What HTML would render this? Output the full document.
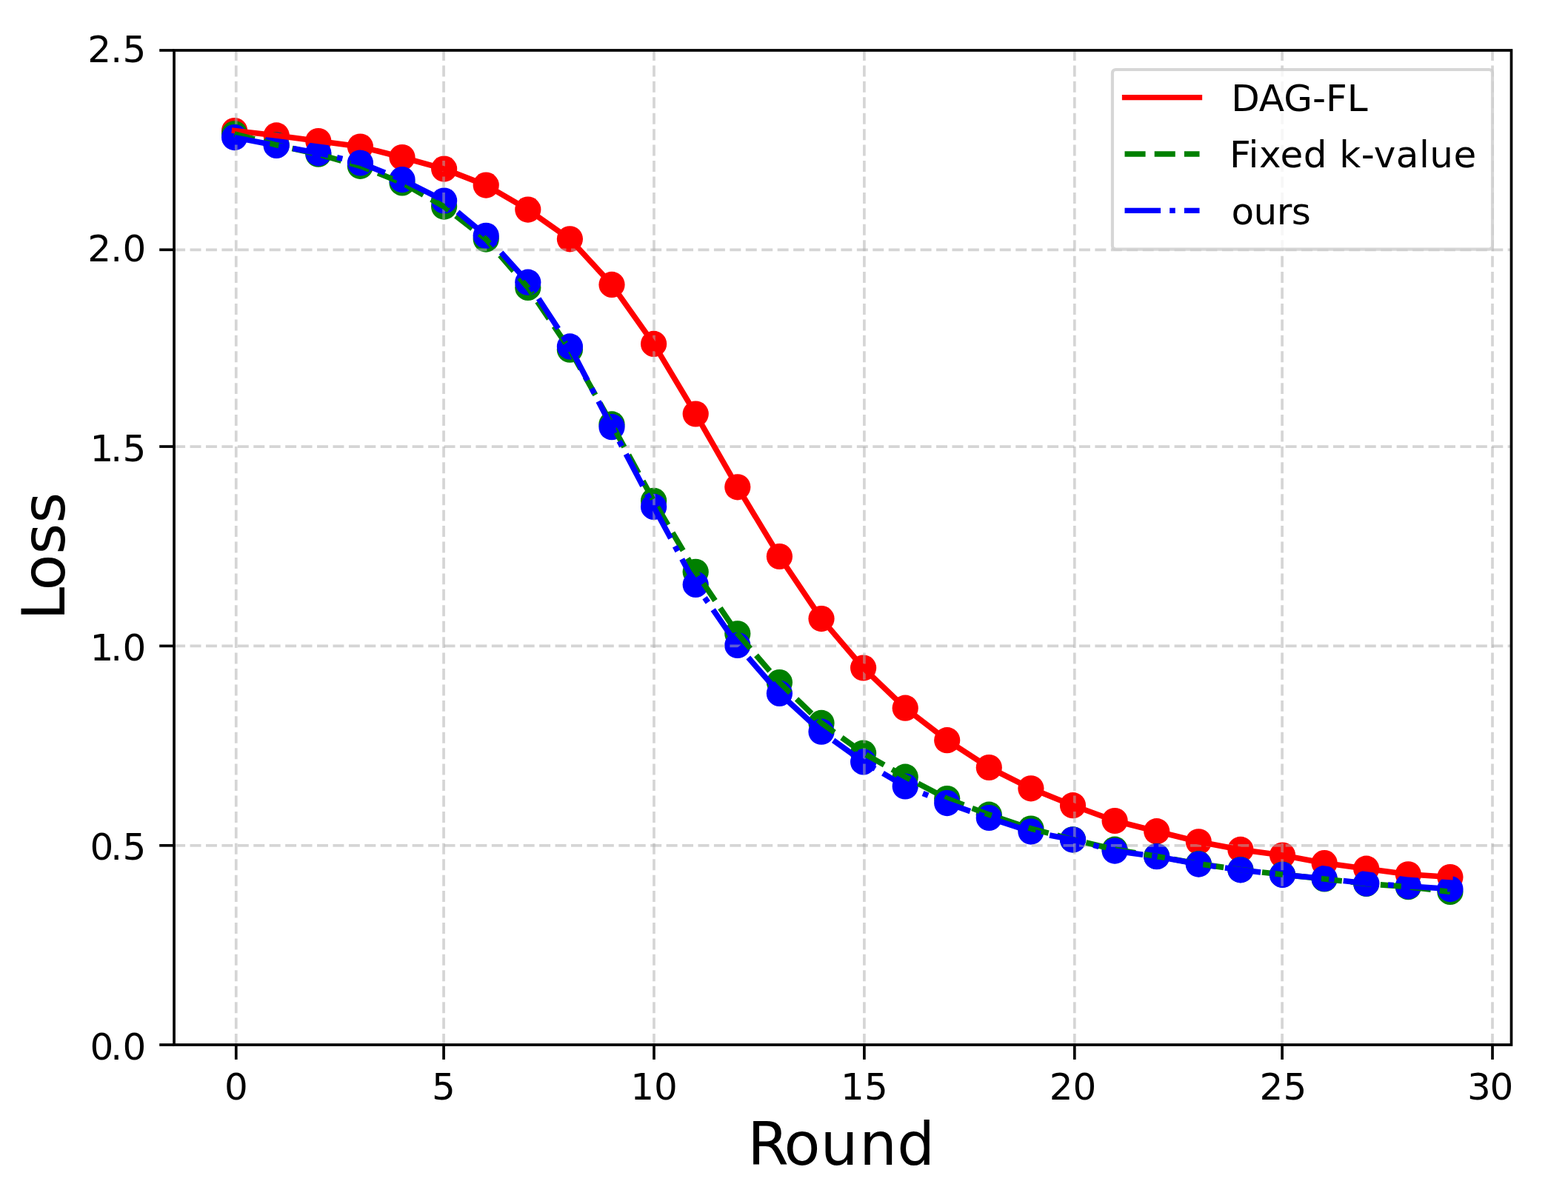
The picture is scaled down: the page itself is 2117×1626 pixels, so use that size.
<!DOCTYPE html>
<html lang="en"><head><meta charset="utf-8"><title>Loss vs Round</title>
<style>
html,body{margin:0;padding:0;background:#fff;}
body{width:2117px;height:1626px;overflow:hidden;}
svg{display:block;}
text{font-family:"DejaVu Sans","Liberation Sans",sans-serif;fill:#000;}
.tk{font-size:50px;}
.lb{font-size:80px;}
</style></head><body>
<svg width="2117" height="1626" viewBox="0 0 2117 1626" role="img" aria-label="Loss versus Round line chart">
<rect x="0" y="0" width="2117" height="1626" fill="#ffffff"/>
<defs><clipPath id="ax"><rect x="235.05" y="67.97" width="1805.45" height="1343.03"/></clipPath></defs>
<g clip-path="url(#ax)">
<g fill="#ff0000">
<circle cx="316.6" cy="176.5" r="17.6"/><circle cx="373.2" cy="182.9" r="17.6"/><circle cx="429.8" cy="190.5" r="17.6"/><circle cx="486.4" cy="198.0" r="17.6"/><circle cx="543.0" cy="212.5" r="17.6"/><circle cx="599.6" cy="228.1" r="17.6"/><circle cx="656.2" cy="250.1" r="17.6"/><circle cx="712.8" cy="283.1" r="17.6"/><circle cx="769.4" cy="322.8" r="17.6"/><circle cx="826.0" cy="384.4" r="17.6"/><circle cx="882.6" cy="464.4" r="17.6"/><circle cx="939.2" cy="559.0" r="17.6"/><circle cx="995.8" cy="657.8" r="17.6"/><circle cx="1052.4" cy="751.5" r="17.6"/><circle cx="1109.0" cy="835.6" r="17.6"/><circle cx="1165.6" cy="902.0" r="17.6"/><circle cx="1222.2" cy="956.2" r="17.6"/><circle cx="1278.7" cy="999.7" r="17.6"/><circle cx="1335.3" cy="1036.5" r="17.6"/><circle cx="1391.9" cy="1064.8" r="17.6"/><circle cx="1448.5" cy="1087.7" r="17.6"/><circle cx="1505.1" cy="1108.5" r="17.6"/><circle cx="1561.7" cy="1122.7" r="17.6"/><circle cx="1618.3" cy="1136.8" r="17.6"/><circle cx="1674.9" cy="1147.4" r="17.6"/><circle cx="1731.5" cy="1155.0" r="17.6"/><circle cx="1788.1" cy="1165.6" r="17.6"/><circle cx="1844.7" cy="1173.2" r="17.6"/><circle cx="1901.3" cy="1180.8" r="17.6"/><circle cx="1957.9" cy="1184.5" r="17.6"/>
</g>
<g fill="#008000">
<circle cx="316.6" cy="180.8" r="17.6"/><circle cx="373.2" cy="195.8" r="17.6"/><circle cx="429.8" cy="208.2" r="17.6"/><circle cx="486.4" cy="224.3" r="17.6"/><circle cx="543.0" cy="246.9" r="17.6"/><circle cx="599.6" cy="279.1" r="17.6"/><circle cx="656.2" cy="323.1" r="17.6"/><circle cx="712.8" cy="388.4" r="17.6"/><circle cx="769.4" cy="472.2" r="17.6"/><circle cx="826.0" cy="572.9" r="17.6"/><circle cx="882.6" cy="676.3" r="17.6"/><circle cx="939.2" cy="772.3" r="17.6"/><circle cx="995.8" cy="855.8" r="17.6"/><circle cx="1052.4" cy="921.6" r="17.6"/><circle cx="1109.0" cy="976.4" r="17.6"/><circle cx="1165.6" cy="1017.0" r="17.6"/><circle cx="1222.2" cy="1049.2" r="17.6"/><circle cx="1278.7" cy="1078.5" r="17.6"/><circle cx="1335.3" cy="1100.2" r="17.6"/><circle cx="1391.9" cy="1119.0" r="17.6"/><circle cx="1448.5" cy="1133.8" r="17.6"/><circle cx="1505.1" cy="1147.2" r="17.6"/><circle cx="1561.7" cy="1156.4" r="17.6"/><circle cx="1618.3" cy="1166.6" r="17.6"/><circle cx="1674.9" cy="1174.6" r="17.6"/><circle cx="1731.5" cy="1181.1" r="17.6"/><circle cx="1788.1" cy="1187.0" r="17.6"/><circle cx="1844.7" cy="1193.4" r="17.6"/><circle cx="1901.3" cy="1197.7" r="17.6"/><circle cx="1957.9" cy="1204.4" r="17.6"/>
</g>
<g fill="#0000ff">
<circle cx="316.6" cy="185.6" r="17.6"/><circle cx="373.2" cy="196.4" r="17.6"/><circle cx="429.8" cy="206.8" r="17.6"/><circle cx="486.4" cy="220.0" r="17.6"/><circle cx="543.0" cy="242.6" r="17.6"/><circle cx="599.6" cy="271.0" r="17.6"/><circle cx="656.2" cy="318.3" r="17.6"/><circle cx="712.8" cy="381.2" r="17.6"/><circle cx="769.4" cy="467.9" r="17.6"/><circle cx="826.0" cy="576.7" r="17.6"/><circle cx="882.6" cy="684.4" r="17.6"/><circle cx="939.2" cy="789.4" r="17.6"/><circle cx="995.8" cy="871.5" r="17.6"/><circle cx="1052.4" cy="936.4" r="17.6"/><circle cx="1109.0" cy="988.2" r="17.6"/><circle cx="1165.6" cy="1028.9" r="17.6"/><circle cx="1222.2" cy="1062.0" r="17.6"/><circle cx="1278.7" cy="1084.6" r="17.6"/><circle cx="1335.3" cy="1104.5" r="17.6"/><circle cx="1391.9" cy="1123.1" r="17.6"/><circle cx="1448.5" cy="1134.0" r="17.6"/><circle cx="1505.1" cy="1149.1" r="17.6"/><circle cx="1561.7" cy="1156.7" r="17.6"/><circle cx="1618.3" cy="1167.1" r="17.6"/><circle cx="1674.9" cy="1174.8" r="17.6"/><circle cx="1731.5" cy="1181.4" r="17.6"/><circle cx="1788.1" cy="1186.4" r="17.6"/><circle cx="1844.7" cy="1193.1" r="17.6"/><circle cx="1901.3" cy="1196.8" r="17.6"/><circle cx="1957.9" cy="1200.6" r="17.6"/>
</g>
<g stroke="#b0b0b0" stroke-opacity="0.53" stroke-width="3.7" stroke-dasharray="14.965 6.471" fill="none">
<line x1="318.77" y1="1411.0" x2="318.77" y2="68.0"/>
<line x1="599.05" y1="1411.0" x2="599.05" y2="68.0"/>
<line x1="882.97" y1="1411.0" x2="882.97" y2="68.0"/>
<line x1="1166.89" y1="1411.0" x2="1166.89" y2="68.0"/>
<line x1="1450.81" y1="1411.0" x2="1450.81" y2="68.0"/>
<line x1="1731.09" y1="1411.0" x2="1731.09" y2="68.0"/>
<line x1="2015.01" y1="1411.0" x2="2015.01" y2="68.0"/>
<line x1="235.1" y1="1141.80" x2="2040.5" y2="1141.80"/>
<line x1="235.1" y1="872.40" x2="2040.5" y2="872.40"/>
<line x1="235.1" y1="603.05" x2="2040.5" y2="603.05"/>
<line x1="235.1" y1="337.30" x2="2040.5" y2="337.30"/>
</g>
<polyline points="316.6,176.5 373.2,182.9 429.8,190.5 486.4,198.0 543.0,212.5 599.6,228.1 656.2,250.1 712.8,283.1 769.4,322.8 826.0,384.4 882.6,464.4 939.2,559.0 995.8,657.8 1052.4,751.5 1109.0,835.6 1165.6,902.0 1222.2,956.2 1278.7,999.7 1335.3,1036.5 1391.9,1064.8 1448.5,1087.7 1505.1,1108.5 1561.7,1122.7 1618.3,1136.8 1674.9,1147.4 1731.5,1155.0 1788.1,1165.6 1844.7,1173.2 1901.3,1180.8 1957.9,1184.5" fill="none" stroke="#ff0000" stroke-width="7.58" stroke-linejoin="round" stroke-linecap="square"/>
<polyline points="316.6,180.8 373.2,195.8 429.8,208.2 486.4,224.3 543.0,246.9 599.6,279.1 656.2,323.1 712.8,388.4 769.4,472.2 826.0,572.9 882.6,676.3 939.2,772.3 995.8,855.8 1052.4,921.6 1109.0,976.4 1165.6,1017.0 1222.2,1049.2 1278.7,1078.5 1335.3,1100.2 1391.9,1119.0 1448.5,1133.8 1505.1,1147.2 1561.7,1156.4 1618.3,1166.6 1674.9,1174.6 1731.5,1181.1 1788.1,1187.0 1844.7,1193.4 1901.3,1197.7 1957.9,1204.4" fill="none" stroke="#008000" stroke-width="7.58" stroke-linejoin="round" stroke-dasharray="28.06 12.13"/>
<polyline points="316.6,185.6 373.2,196.4 429.8,206.8 486.4,220.0 543.0,242.6 599.6,271.0 656.2,318.3 712.8,381.2 769.4,467.9 826.0,576.7 882.6,684.4 939.2,789.4 995.8,871.5 1052.4,936.4 1109.0,988.2 1165.6,1028.9 1222.2,1062.0 1278.7,1084.6 1335.3,1104.5 1391.9,1123.1 1448.5,1134.0 1505.1,1149.1 1561.7,1156.7 1618.3,1167.1 1674.9,1174.8 1731.5,1181.4 1788.1,1186.4 1844.7,1193.1 1901.3,1196.8 1957.9,1200.6" fill="none" stroke="#0000ff" stroke-width="7.58" stroke-linejoin="round" stroke-dasharray="48.53 12.13 7.58 12.13"/>
</g>
<g stroke="#000" stroke-width="3.7" fill="none">
<line x1="318.77" y1="1411.0" x2="318.77" y2="1430.9"/>
<line x1="599.05" y1="1411.0" x2="599.05" y2="1430.9"/>
<line x1="882.97" y1="1411.0" x2="882.97" y2="1430.9"/>
<line x1="1166.89" y1="1411.0" x2="1166.89" y2="1430.9"/>
<line x1="1450.81" y1="1411.0" x2="1450.81" y2="1430.9"/>
<line x1="1731.09" y1="1411.0" x2="1731.09" y2="1430.9"/>
<line x1="2015.01" y1="1411.0" x2="2015.01" y2="1430.9"/>
<line x1="235.1" y1="1411.00" x2="215.2" y2="1411.00"/>
<line x1="235.1" y1="1141.80" x2="215.2" y2="1141.80"/>
<line x1="235.1" y1="872.40" x2="215.2" y2="872.40"/>
<line x1="235.1" y1="603.05" x2="215.2" y2="603.05"/>
<line x1="235.1" y1="337.30" x2="215.2" y2="337.30"/>
<line x1="235.1" y1="67.97" x2="215.2" y2="67.97"/>
<rect x="235.05" y="67.97" width="1805.45" height="1343.03" stroke-linejoin="miter"/>
</g>
<g class="tk" text-anchor="middle">
<text x="318.8" y="1485.4">0</text>
<text x="599.0" y="1485.4">5</text>
<text x="883.0" y="1485.4">10</text>
<text x="1166.9" y="1485.4">15</text>
<text x="1448.6" y="1485.4">20</text>
<text x="1732.4" y="1485.4">25</text>
<text x="2011.4" y="1485.4" letter-spacing="-1.5">30</text>
</g>
<g class="tk">
<text x="121.4 149.2 165.4" y="1430.5">0.0</text>
<text x="121.4 149.2 165.4" y="1161.2">0.5</text>
<text x="121.4 149.2 165.4" y="891.9">1.0</text>
<text x="121.4 149.2 165.4" y="622.6">1.5</text>
<text x="118.2 149.2 165.4" y="353.3">2.0</text>
<text x="118.2 149.2 165.4" y="83.9">2.5</text>
</g>
<text class="lb" x="1009.2" y="1572.6" dx="0 -2.6 0.2 1.7 0.3">Round</text>
<text class="lb" transform="translate(87.1 837.5) rotate(-90)" dx="0 -3.1 0 0.4">Loss</text>
<g>
<rect x="1501.9" y="94.0" width="513.1" height="242.6" rx="4.5" ry="4.5" fill="#ffffff" fill-opacity="0.8" stroke="#cccccc" stroke-opacity="0.8" stroke-width="4.1"/>
<line x1="1518.5" y1="131.55" x2="1619.5" y2="131.55" stroke="#ff0000" stroke-width="7.28" stroke-linecap="square"/>
<line x1="1518.5" y1="208.0" x2="1619.5" y2="208.0" stroke="#008000" stroke-width="7.28" stroke-dasharray="28.06 12.13"/>
<line x1="1518.5" y1="284.45" x2="1619.5" y2="284.45" stroke="#0000ff" stroke-width="7.28" stroke-dasharray="48.53 12.13 7.58 12.13"/>
<g class="tk">
<text x="1662.2" y="149.8">DAG-FL</text>
<text x="1660.0" y="225.9" letter-spacing="0.46">Fixed k-value</text>
<text x="1662.5" y="302.5" letter-spacing="-0.5">ours</text>
</g></g>
</svg>
</body></html>
